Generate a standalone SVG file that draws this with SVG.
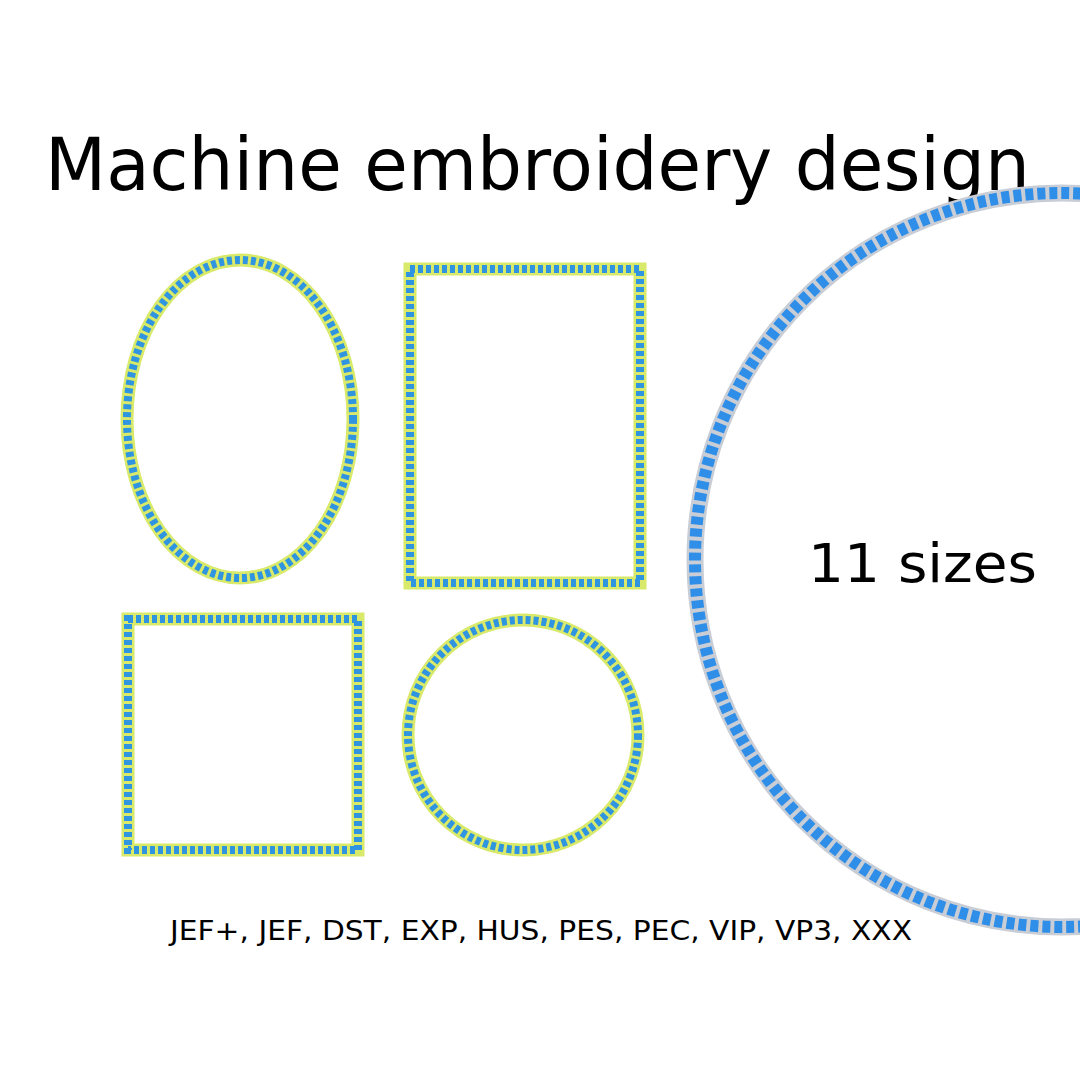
<svg xmlns="http://www.w3.org/2000/svg" width="1080" height="1077" viewBox="0 0 1080 1077">
<style>
.t{font-family:"DejaVu Sans","Liberation Sans",sans-serif;fill:#000}
.edge{fill:none;stroke:#d9e96a;stroke-width:13}
.rope{fill:none;stroke:#2f95e0;stroke-width:8;stroke-dasharray:5 3}
.bedge{fill:none;stroke:#c8cdd6;stroke-width:17}
.brope{fill:none;stroke:#2f8ee8;stroke-width:12;stroke-dasharray:8 4}
</style>
<rect width="1080" height="1077" fill="#fff"/>
<text class="t" x="45" y="190" font-size="73" textLength="985" lengthAdjust="spacingAndGlyphs">Machine embroidery design</text>
<g id="big-circle"><circle class="bedge" cx="1062" cy="560" r="367"/><circle class="brope" cx="1062" cy="560" r="367"/></g>
<g id="oval"><ellipse class="edge" cx="240" cy="419" rx="113" ry="159"/><ellipse class="rope" cx="240" cy="419" rx="113" ry="159"/></g>
<g id="rect"><rect class="edge" x="410" y="269" width="230" height="314"/><rect class="rope" x="410" y="269" width="230" height="314"/></g>
<g id="square"><rect class="edge" x="128" y="619" width="230" height="231"/><rect class="rope" x="128" y="619" width="230" height="231"/></g>
<g id="circle"><circle class="edge" cx="523" cy="735" r="115"/><circle class="rope" cx="523" cy="735" r="115"/></g>
<text class="t" x="808" y="582" font-size="54" textLength="229" lengthAdjust="spacingAndGlyphs">11 sizes</text>
<text class="t" x="170" y="940" font-size="26" textLength="742" lengthAdjust="spacingAndGlyphs">JEF+, JEF, DST, EXP, HUS, PES, PEC, VIP, VP3, XXX</text>
</svg>
